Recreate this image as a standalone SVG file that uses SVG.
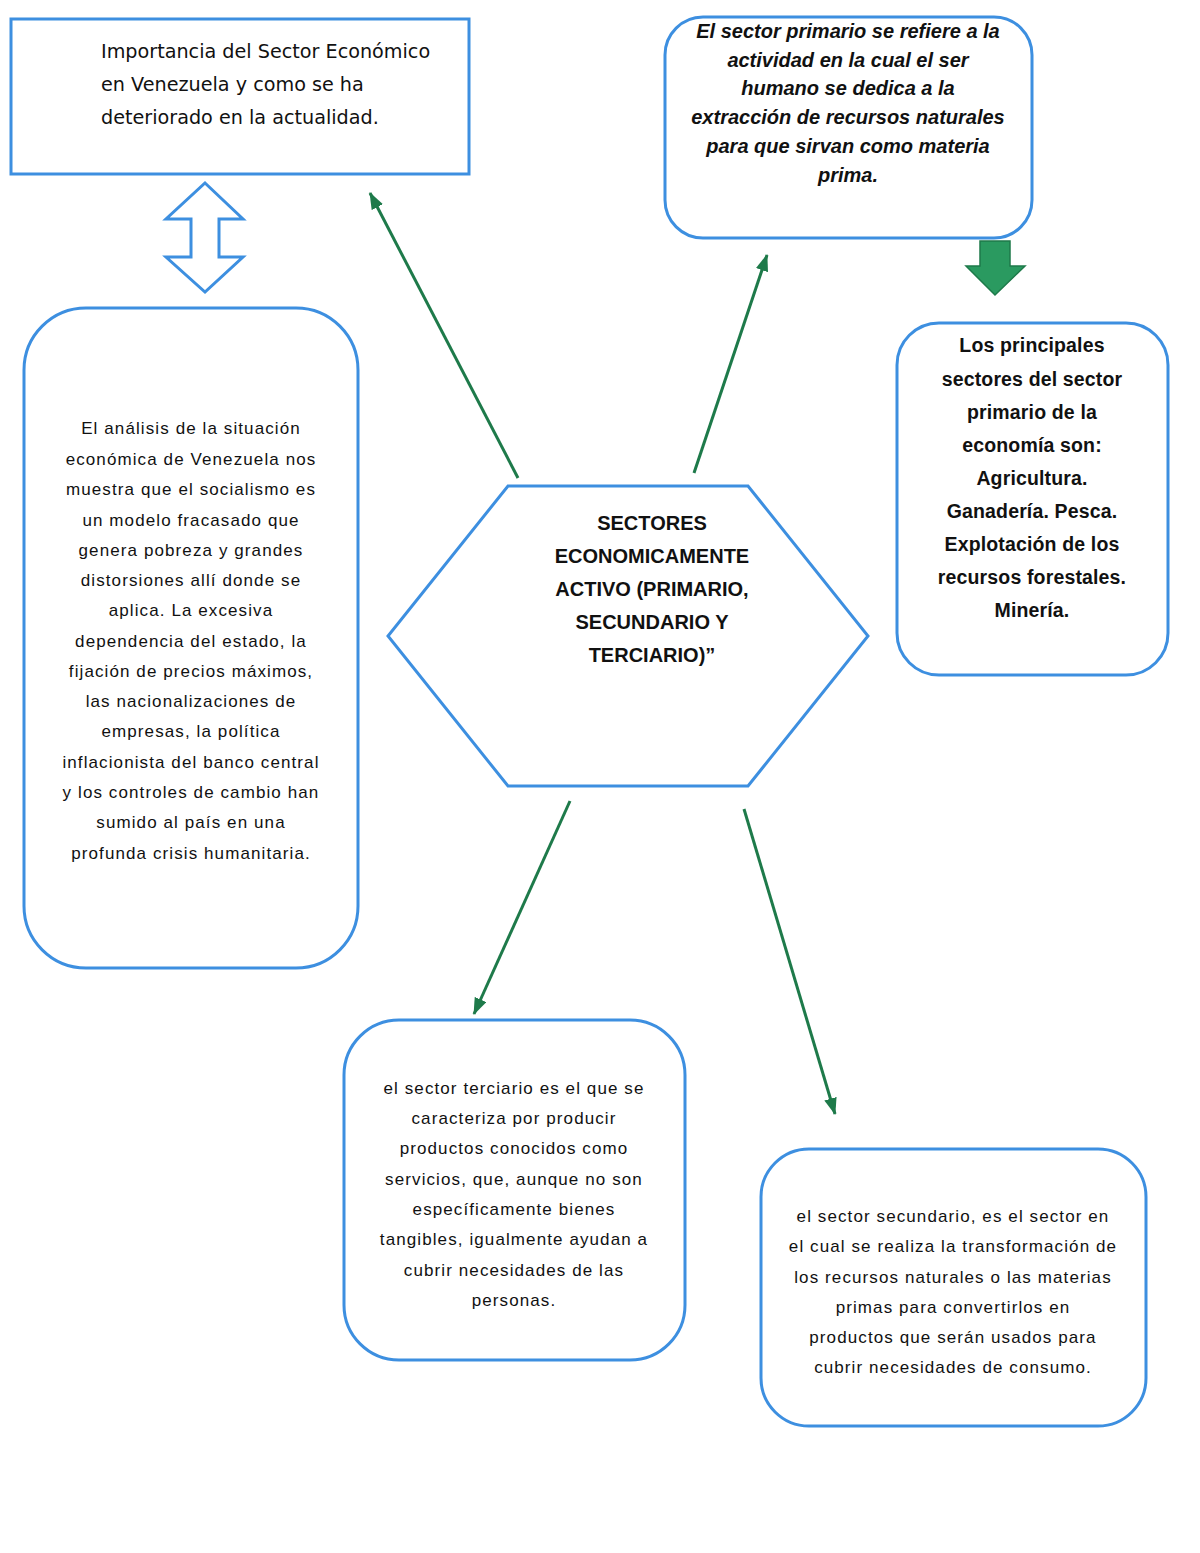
<svg xmlns="http://www.w3.org/2000/svg" width="1200" height="1553" viewBox="0 0 1200 1553">
<style>
.box{fill:#ffffff;stroke:#3d8fe0;stroke-width:3}
.conn{stroke:#1e7a4a;stroke-width:3;fill:none}
.t{font-family:"Liberation Sans","DejaVu Sans",Arial,sans-serif;fill:#111;text-anchor:middle}
.title{font-family:"DejaVu Sans","Liberation Sans",sans-serif;font-size:19.2px;fill:#111}
.bi{font-weight:bold;font-style:italic;font-size:20px}
.hx{font-weight:bold;font-size:20px}
.rb{font-weight:bold;font-size:19.5px;letter-spacing:0.15px}
.lt{font-size:17px;letter-spacing:1.1px}
.bt{font-size:17px;letter-spacing:1.1px}
</style>
<defs>
<marker id="ah" viewBox="0 0 16 12" refX="15" refY="6" markerWidth="17" markerHeight="13" markerUnits="userSpaceOnUse" orient="auto">
<path d="M0,0 L16,6 L0,12 Z" fill="#1e7a4a"/>
</marker>
</defs>
<rect width="1200" height="1553" fill="#ffffff"/>

<g id="connectors">
<line class="conn" x1="518" y1="478" x2="370" y2="193" marker-end="url(#ah)"/>
<line class="conn" x1="694" y1="473" x2="767" y2="255" marker-end="url(#ah)"/>
<line class="conn" x1="570" y1="801" x2="474" y2="1014" marker-end="url(#ah)"/>
<line class="conn" x1="744" y1="809" x2="835" y2="1114" marker-end="url(#ah)"/>
<polygon id="double-arrow" points="205,183 243,219 219,219 219,257 243,257 205,292 166,257 191,257 191,219 166,219" fill="#ffffff" stroke="#3d8fe0" stroke-width="3" stroke-linejoin="miter"/>
<polygon id="block-arrow" points="980,241 1010,241 1010,266 1025,266 995,295 966,266 980,266" fill="#2a9a60" stroke="#1e7a4a" stroke-width="1.5"/>
</g>

<g id="title-box">
<rect class="box" x="11" y="19" width="458" height="155"/>
<text class="title" x="101" y="58">Importancia del Sector Económico</text>
<text class="title" x="101" y="91">en Venezuela y como se ha</text>
<text class="title" x="101" y="124">deteriorado en la actualidad.</text>
</g>

<g id="primario-def">
<rect class="box" x="665" y="17" width="367" height="221" rx="38" ry="38"/>
<text class="t bi" x="848" y="38">El sector primario se refiere a la</text>
<text class="t bi" x="848" y="67">actividad en la cual el ser</text>
<text class="t bi" x="848" y="95">humano se dedica a la</text>
<text class="t bi" x="848" y="124">extracción de recursos naturales</text>
<text class="t bi" x="848" y="153">para que sirvan  como materia</text>
<text class="t bi" x="848" y="182">prima.</text>
</g>

<g id="primario-sectores">
<rect class="box" x="897" y="323" width="271" height="352" rx="42" ry="42"/>
<text class="t rb" x="1032" y="352">Los principales</text>
<text class="t rb" x="1032" y="386">sectores del sector</text>
<text class="t rb" x="1032" y="419">primario de la</text>
<text class="t rb" x="1032" y="452">economía son:</text>
<text class="t rb" x="1032" y="485">Agricultura.</text>
<text class="t rb" x="1032" y="518">Ganadería. Pesca.</text>
<text class="t rb" x="1032" y="551">Explotación de los</text>
<text class="t rb" x="1032" y="584">recursos forestales.</text>
<text class="t rb" x="1032" y="617">Minería.</text>
</g>

<g id="analisis">
<rect class="box" x="24" y="308" width="334" height="660" rx="62" ry="62"/>
<text class="t lt" x="191" y="434">El análisis de la situación</text>
<text class="t lt" x="191" y="465">económica de Venezuela nos</text>
<text class="t lt" x="191" y="495">muestra que el socialismo es</text>
<text class="t lt" x="191" y="526">un modelo fracasado que</text>
<text class="t lt" x="191" y="556">genera pobreza y grandes</text>
<text class="t lt" x="191" y="586">distorsiones allí donde se</text>
<text class="t lt" x="191" y="616">aplica. La excesiva</text>
<text class="t lt" x="191" y="647">dependencia del estado, la</text>
<text class="t lt" x="191" y="677">fijación de precios máximos,</text>
<text class="t lt" x="191" y="707">las nacionalizaciones de</text>
<text class="t lt" x="191" y="737">empresas, la política</text>
<text class="t lt" x="191" y="768">inflacionista del banco central</text>
<text class="t lt" x="191" y="798">y los controles de cambio han</text>
<text class="t lt" x="191" y="828">sumido al país en una</text>
<text class="t lt" x="191" y="859">profunda crisis humanitaria.</text>
</g>

<g id="centro">
<polygon class="box" points="508,486 748,486 868,636 748,786 508,786 388,636"/>
<text class="t hx" x="652" y="530">SECTORES</text>
<text class="t hx" x="652" y="563">ECONOMICAMENTE</text>
<text class="t hx" x="652" y="596">ACTIVO (PRIMARIO,</text>
<text class="t hx" x="652" y="629">SECUNDARIO Y</text>
<text class="t hx" x="652" y="662">TERCIARIO)”</text>
</g>

<g id="terciario">
<rect class="box" x="344" y="1020" width="341" height="340" rx="55" ry="55"/>
<text class="t bt" x="514" y="1094">el sector terciario es el que se</text>
<text class="t bt" x="514" y="1124">caracteriza por producir</text>
<text class="t bt" x="514" y="1154">productos conocidos como</text>
<text class="t bt" x="514" y="1185">servicios, que, aunque no son</text>
<text class="t bt" x="514" y="1215">específicamente bienes</text>
<text class="t bt" x="514" y="1245">tangibles, igualmente ayudan a</text>
<text class="t bt" x="514" y="1276">cubrir necesidades de las</text>
<text class="t bt" x="514" y="1306">personas.</text>
</g>

<g id="secundario">
<rect class="box" x="761" y="1149" width="385" height="277" rx="48" ry="48"/>
<text class="t bt" x="953" y="1222">el sector secundario, es el sector en</text>
<text class="t bt" x="953" y="1252">el cual se realiza la transformación de</text>
<text class="t bt" x="953" y="1283">los recursos naturales o las materias</text>
<text class="t bt" x="953" y="1313">primas para convertirlos en</text>
<text class="t bt" x="953" y="1343">productos que serán usados para</text>
<text class="t bt" x="953" y="1373">cubrir necesidades de consumo.</text>
</g>
</svg>
